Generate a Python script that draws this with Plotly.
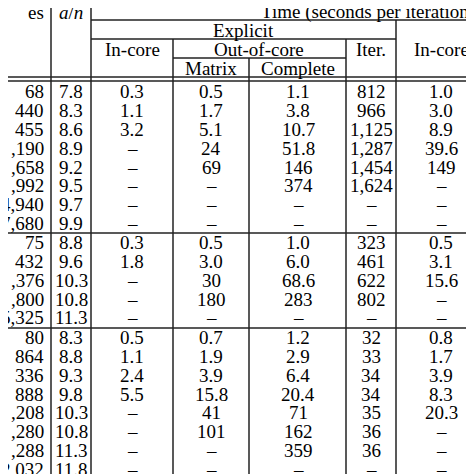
import plotly.graph_objects as go

# table data (left column is clipped in the original, only the visible part is kept)
vertices = ["68", "440", "455", ",190", ",658", ",992", "4,940", "7,680",
            "75", "432", ",376", ",800", "5,325",
            "80", "864", "336", "888", ",208", ",280", ",288", "2,032"]
a_over_n = ["7.8", "8.3", "8.6", "8.9", "9.2", "9.5", "9.7", "9.9",
            "8.8", "9.6", "10.3", "10.8", "11.3",
            "8.3", "8.8", "9.3", "9.8", "10.3", "10.8", "11.3", "11.8"]
incore = ["0.3", "1.1", "3.2", "–", "–", "–", "–", "–",
          "0.3", "1.8", "–", "–", "–",
          "0.5", "1.1", "2.4", "5.5", "–", "–", "–", "–"]
matrix = ["0.5", "1.7", "5.1", "24", "69", "–", "–", "–",
          "0.5", "3.0", "30", "180", "–",
          "0.7", "1.9", "3.9", "15.8", "41", "101", "–", "–"]
complete = ["1.1", "3.8", "10.7", "51.8", "146", "374", "–", "–",
            "1.0", "6.0", "68.6", "283", "–",
            "1.2", "2.9", "6.4", "20.4", "71", "162", "359", "–"]
iters = ["812", "966", "1,125", "1,287", "1,454", "1,624", "–", "–",
         "323", "461", "622", "802", "–",
         "32", "33", "34", "34", "35", "36", "36", "–"]
incore2 = ["1.0", "3.0", "8.9", "39.6", "149", "–", "–", "–",
           "0.5", "3.1", "15.6", "–", "–",
           "0.8", "1.7", "3.9", "8.3", "20.3", "–", "–", "–"]

# layout in pixels
row_y = [87, 106, 125, 144, 163, 181, 200, 219,
         238, 257, 276, 295, 313,
         333, 352, 371, 390, 408, 427, 446, 465]
col_x = [63, 124, 203, 290, 363, 433]
FONT = dict(family="Liberation Serif, DejaVu Serif, serif", size=19, color="black")
LC = "#222"

fig = go.Figure()
ann = []
for i, y in enumerate(row_y):
    ann.append(dict(x=38, y=y, text=vertices[i], xanchor="right"))
    for x, col in zip(col_x, [a_over_n, incore, matrix, complete, iters, incore2]):
        ann.append(dict(x=x, y=y, text=col[i], xanchor="center"))

headers = [(38, 8, "es", "right"), (63, 8, "<i>a</i>/<i>n</i>", "center"),
           (360, 8, "Time (seconds per iteration)", "center"),
           (235, 26, "Explicit", "center"), (124, 45, "In-core", "center"),
           (251, 45, "Out-of-core", "center"), (203, 64, "Matrix", "center"),
           (290, 64, "Complete", "center"), (363, 45, "Iter.", "center"),
           (433, 45, "In-core", "center")]
for x, y, t, a in headers:
    ann.append(dict(x=x, y=y, text=t, xanchor=a))

for a in ann:
    a.update(xref="x", yref="y", yanchor="middle", showarrow=False, font=FONT)

lines = [(0, 73, 474, 73), (0, 77, 474, 77), (0, 229, 474, 229), (0, 324, 474, 324),
         (83, 16, 474, 16), (83, 35, 388, 35), (165, 54, 338, 54),
         (43, 0, 43, 480), (83, 0, 83, 480), (165, 35, 165, 480),
         (241, 54, 241, 480), (338, 35, 338, 480), (388, 16, 388, 480)]
shapes = [dict(type="line", x0=a, y0=b, x1=c, y1=d, xref="x", yref="y",
               line=dict(color=LC, width=1.5)) for a, b, c, d in lines]

fig.update_layout(width=474, height=474, margin=dict(l=0, r=0, t=0, b=0),
                  paper_bgcolor="white", plot_bgcolor="white",
                  annotations=ann, shapes=shapes, showlegend=False,
                  xaxis=dict(range=[0, 474], visible=False, fixedrange=True),
                  yaxis=dict(range=[478, 4], visible=False, fixedrange=True))
fig.write_html("out.html")
